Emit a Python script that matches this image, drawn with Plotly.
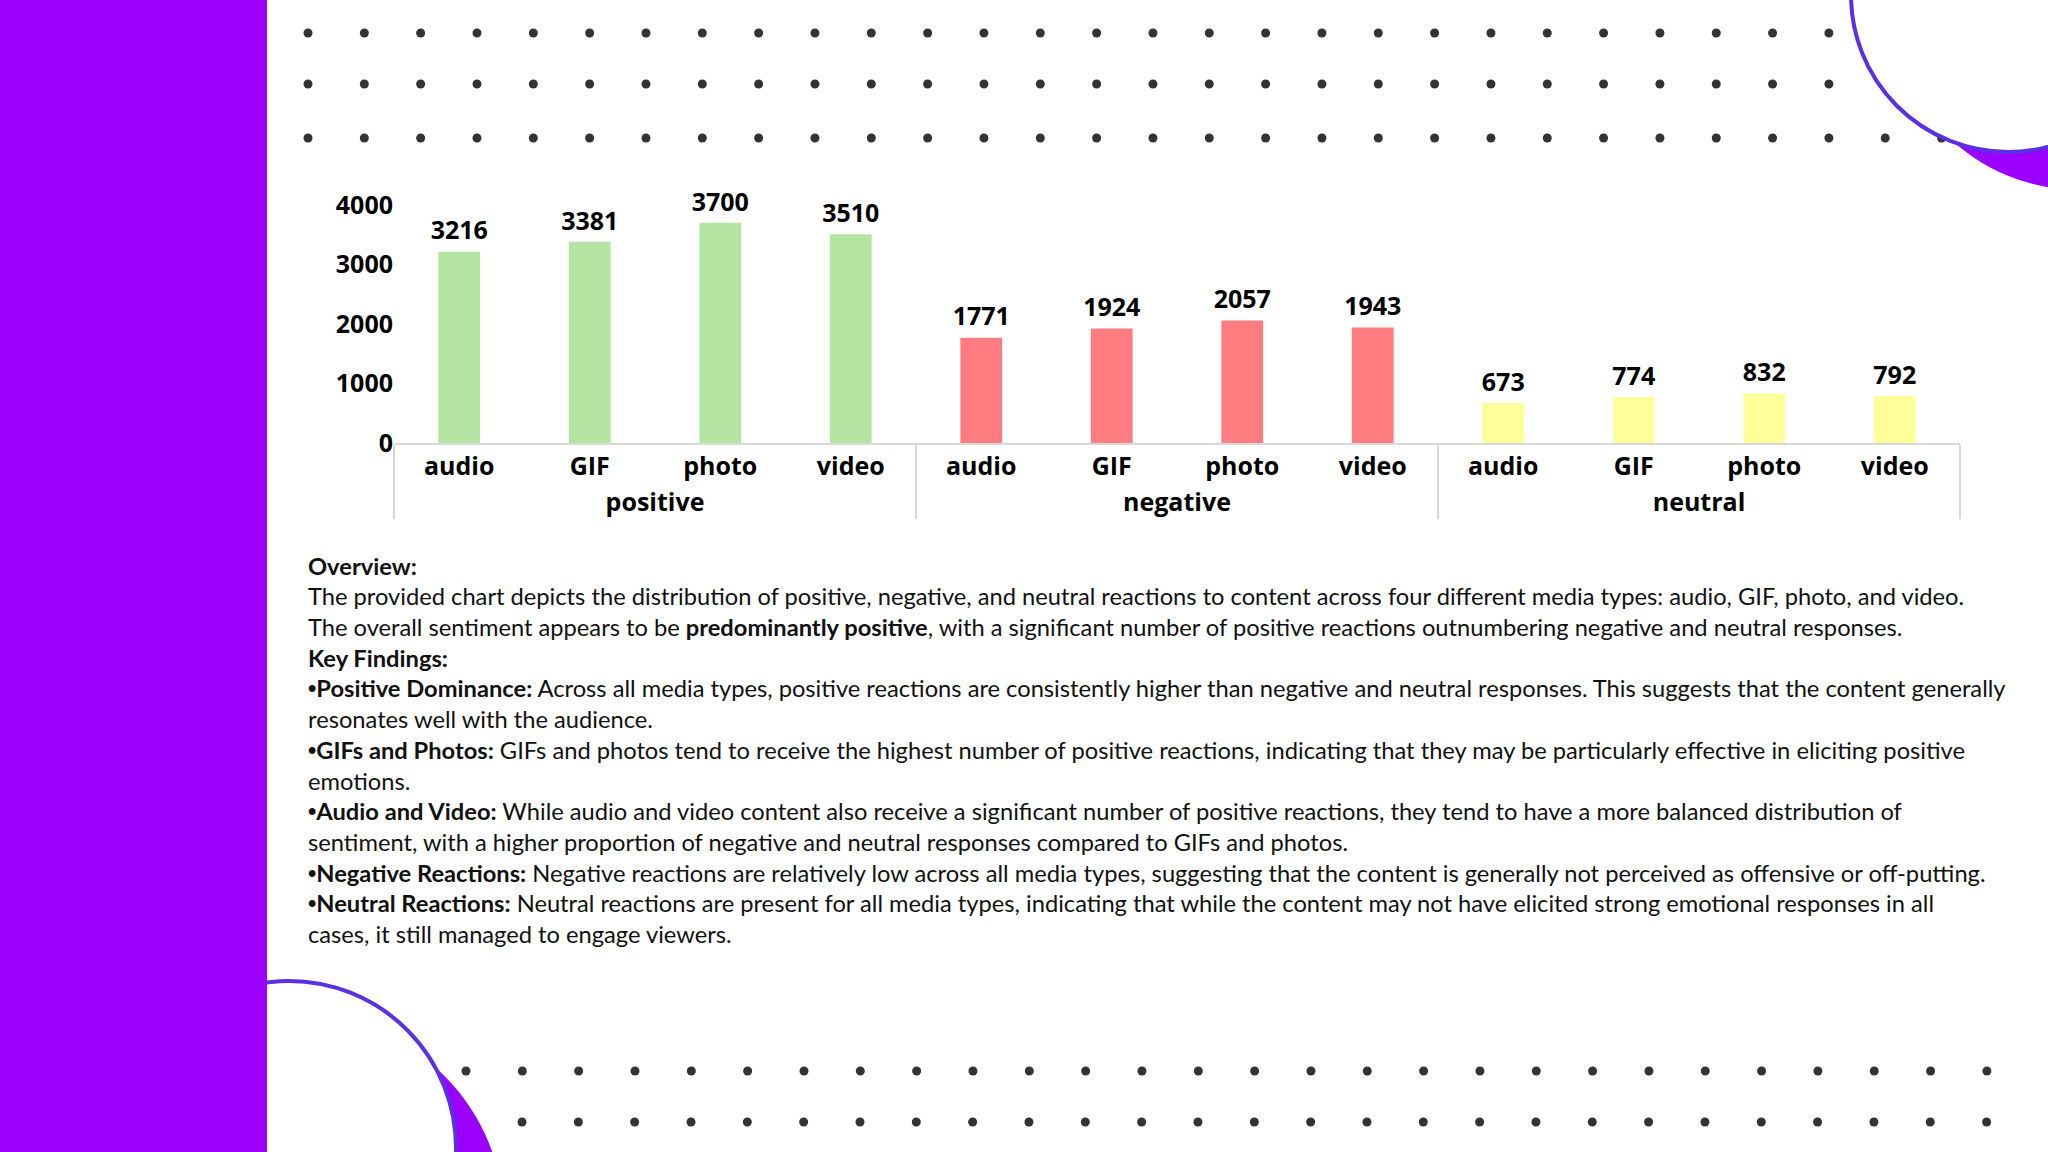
import plotly.graph_objects as go

W, H = 2048, 1152

# ---- data ----
sentiments = ["positive", "negative", "neutral"]
media = ["audio", "GIF", "photo", "video"]
positive_vals = [3216, 3381, 3700, 3510]
negative_vals = [1771, 1924, 2057, 1943]
neutral_vals = [673, 774, 832, 792]
sentiment_colors = {"positive": "#B4E5A2", "negative": "#FF7C80", "neutral": "#FFFF99"}
y_ticks = [0, 1000, 2000, 3000, 4000]

BUL = "<span style=\"font-family:'Liberation Sans'\">•</span>"
text_lines = [
    "<b>Overview:</b>",
    "The provided chart depicts the distribution of positive, negative, and neutral reactions to content across four different media types: audio, GIF, photo, and video.",
    "The overall sentiment appears to be <b>predominantly positive</b>, with a significant number of positive reactions outnumbering negative and neutral responses.",
    "<b>Key Findings:</b>",
    "<b>" + BUL + "Positive Dominance:</b> Across all media types, positive reactions are consistently higher than negative and neutral responses. This suggests that the content generally",
    "resonates well with the audience.",
    "<b>" + BUL + "GIFs and Photos:</b> GIFs and photos tend to receive the highest number of positive reactions, indicating that they may be particularly effective in eliciting positive",
    "emotions.",
    "<b>" + BUL + "Audio and Video:</b> While audio and video content also receive a significant number of positive reactions, they tend to have a more balanced distribution of",
    "sentiment, with a higher proportion of negative and neutral responses compared to GIFs and photos.",
    "<b>" + BUL + "Negative Reactions:</b> Negative reactions are relatively low across all media types, suggesting that the content is generally not perceived as offensive or off-putting.",
    "<b>" + BUL + "Neutral Reactions:</b> Neutral reactions are present for all media types, indicating that while the content may not have elicited strong emotional responses in all",
    "cases, it still managed to engage viewers.",
]

# ---- build series ----
values_by_sent = {"positive": positive_vals, "negative": negative_vals, "neutral": neutral_vals}
x_groups, x_cats, y_vals, colors = [], [], [], []
for s in sentiments:
    for m, v in zip(media, values_by_sent[s]):
        x_groups.append(s)
        x_cats.append(m)
        y_vals.append(v)
        colors.append(sentiment_colors[s])

LABEL_FONT = "Open Sans"
LABEL_SIZE = 25

fig = go.Figure()
fig.add_trace(go.Bar(
    x=[x_groups, x_cats],
    y=y_vals,
    marker=dict(color=colors, line=dict(width=0)),
    hoverinfo="skip",
))
# value labels above bars
fig.add_trace(go.Scatter(
    x=[x_groups, x_cats],
    y=y_vals,
    mode="markers+text",
    marker=dict(size=8, opacity=0),
    text=[str(v) for v in y_vals],
    textposition="top center",
    textfont=dict(family=LABEL_FONT, size=LABEL_SIZE, color="#000000", weight=700),
    cliponaxis=False,
    hoverinfo="skip",
))

def px_x(x):
    return x / W

def px_y(y):
    return 1 - y / H

shapes = []
dot_r = 4.5
sp = 56.33
for ry in [33, 84, 138]:
    for i in range(30):
        cx = 308 + i * sp
        shapes.append(dict(type="circle", xref="paper", yref="paper",
                           x0=px_x(cx - dot_r), x1=px_x(cx + dot_r),
                           y0=px_y(ry + dot_r), y1=px_y(ry - dot_r),
                           fillcolor="#333333", line=dict(width=0), layer="below"))
for ry, start, n in [(1071, 466, 28), (1122, 522, 27)]:
    for i in range(n):
        cx = start + i * sp
        shapes.append(dict(type="circle", xref="paper", yref="paper",
                           x0=px_x(cx - dot_r), x1=px_x(cx + dot_r),
                           y0=px_y(ry + dot_r), y1=px_y(ry - dot_r),
                           fillcolor="#333333", line=dict(width=0), layer="below"))

def circ(cx, cy, r, fill, line_color=None, lw=0):
    return dict(type="circle", xref="paper", yref="paper",
                x0=px_x(cx - r), x1=px_x(cx + r),
                y0=px_y(cy + r), y1=px_y(cy - r),
                fillcolor=fill,
                line=dict(color=line_color or fill, width=lw), layer="below")

PURPLE = "#9B00FF"
OUTLINE = "#5A30E2"
shapes.append(circ(2080, 0, 190, PURPLE))
shapes.append(circ(2008, -5, 157, "#FFFFFF", OUTLINE, 4))
shapes.append(circ(300, 1220, 204, PURPLE))
shapes.append(circ(289, 1148, 167, "#FFFFFF", OUTLINE, 4))
shapes.append(dict(type="rect", xref="paper", yref="paper",
                   x0=0, x1=px_x(267), y0=0, y1=1,
                   fillcolor=PURPLE, line=dict(width=0), layer="below"))

annotations = []
for i, line in enumerate(text_lines):
    yc = 565.5 + i * 30.72
    annotations.append(dict(
        x=px_x(306), y=px_y(yc), xref="paper", yref="paper",
        xanchor="left", yanchor="middle", showarrow=False,
        text=line, align="left",
        font=dict(family="Lato", size=23.7, color="#111111"),
    ))

n_cats = len(y_vals)
fig.update_layout(
    width=W, height=H,
    margin=dict(l=0, r=0, t=0, b=0, pad=0, autoexpand=False),
    paper_bgcolor="#FFFFFF",
    plot_bgcolor="rgba(0,0,0,0)",
    showlegend=False,
    bargap=0.68,
    shapes=shapes,
    annotations=annotations,
    xaxis=dict(
        domain=[px_x(394), px_x(1960)],
        type="multicategory",
        range=[-0.5, n_cats - 0.5],
        automargin=False,
        showline=True, linecolor="#D9D9D9", linewidth=2,
        showdividers=True, dividercolor="#D9D9D9", dividerwidth=2,
        tickfont=dict(family=LABEL_FONT, size=LABEL_SIZE, color="#000000", weight=700),
        showgrid=False, zeroline=False, ticks="",
    ),
    yaxis=dict(
        domain=[px_y(443), px_y(205)],
        range=[0, 4000],
        automargin=False,
        tickvals=y_ticks,
        tickfont=dict(family=LABEL_FONT, size=LABEL_SIZE, color="#000000", weight=700),
        showgrid=False, zeroline=False, showline=False, ticks="",
    ),
)

fig.write_html("out.html",
               config={"displayModeBar": False},
               post_script="document.body.style.margin='0';document.body.style.overflow='hidden';")
